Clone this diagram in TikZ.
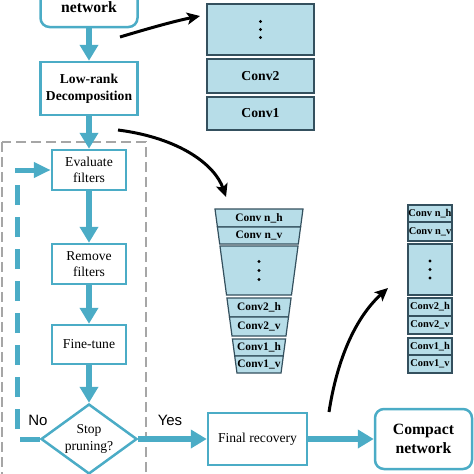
\documentclass[tikz,border=0pt]{standalone}
\usepackage{fontspec}
\setmainfont{Liberation Serif}
\newfontfamily\labelfont{Liberation Sans}
\usetikzlibrary{arrows.meta,shapes.geometric}
\definecolor{flowblue}{HTML}{4BACC6}
\definecolor{layerfill}{HTML}{B7DDE8}
\definecolor{layeredge}{HTML}{34505E}
\definecolor{framegrey}{HTML}{A6A6A6}
\tikzset{
  stepbox/.style={draw=flowblue, line width=2.5pt, fill=white, align=center, inner sep=0pt, font=\fontsize{13.6}{16.5}\selectfont},
  netbox/.style={stepbox, rounded corners=9pt, minimum width=97pt, font=\bfseries\fontsize{15.7}{19}\selectfont},
  flow/.style={line width=6pt, flowblue, -{Triangle[length=16pt,width=18pt]}},
  jump/.style={line width=3pt, -{Stealth[length=13pt,width=12pt,inset=3pt]}},
  layer/.style={draw=layeredge, line width=1.2pt, fill=layerfill},
  layertext/.style={font=\bfseries\fontsize{11.4}{13}\selectfont, inner sep=0pt},
  answer/.style={font=\labelfont\fontsize{15}{18}\selectfont},
}
\begin{document}
\begin{tikzpicture}[x=1pt,y=-1pt]
		\useasboundingbox (0,0) rectangle (474,474);
		% pruning loop frame
		\draw[framegrey, line width=1.8pt, dash pattern=on 10pt off 5pt] (2,142) rectangle (146,490);
		
		\node[netbox, minimum height=40pt] (orig) at (89,7) {network};
		\node[stepbox, minimum width=97pt, minimum height=53pt, font=\bfseries\fontsize{13.6}{16.5}\selectfont] (lowrank) at (89,88.5) {Low-rank\\Decomposition};
		\node[stepbox, minimum width=74pt, minimum height=40pt] (eval) at (89,170) {Evaluate\\filters};
		\node[stepbox, minimum width=74pt, minimum height=40pt] (remove) at (89,264) {Remove\\filters};
		\node[stepbox, minimum width=74pt, minimum height=39pt] (fine) at (89,344.5) {Fine-tune};
		\node[stepbox, diamond, aspect=1.37, minimum width=96pt, minimum height=70pt] (stop) at (89,439) {Stop\\pruning?};
		\node[stepbox, minimum width=99pt, minimum height=52pt] (final) at (257.5,439) {Final recovery};
		\node[netbox, minimum height=60pt] (compact) at (423.5,439) {Compact\\network};
		
		\draw[flow] (orig) -- (lowrank);
		\draw[flow] (lowrank) -- (eval);
		\draw[flow] (eval) -- (remove);
		\draw[flow] (remove) -- (fine);
		\draw[flow] (fine) -- (stop);
		\draw[flow] (stop) -- (final);
		\draw[flow] (final) -- (compact);
		\draw[line width=5pt, flowblue, dash pattern=on 20pt off 12pt, -{Triangle[length=17pt,width=15pt]}] (stop.west) -- ++(-22,0) |- (eval.west);
		
		\node[answer] (no) at (38,420) {No};
		\node[answer] (yes) at (170,420) {Yes};
		
		% original layers
		\node[layer, minimum width=107pt, minimum height=51pt] (odots) at (260.5,29.5) {};
		\node[layer, minimum width=107pt, minimum height=34pt, font=\bfseries\fontsize{13.7}{16}\selectfont] (oconv2) at (260.5,76) {Conv2};
		\node[layer, minimum width=107pt, minimum height=33pt, font=\bfseries\fontsize{13.7}{16}\selectfont] (oconv1) at (260.5,113.5) {Conv1};
		\foreach \d in {-8,0,8} \fill (odots.center) ++(0,\d) circle (1.6pt);
		
		% decomposed layers
		\foreach \ya/\yb/\name/\txt in {209/227/nh/Conv n\_h, 227/244/nv/Conv n\_v, 246/295/dots/, 298/317/twoh/Conv2\_h, 317/336/twov/Conv2\_v, 339/356/oneh/Conv1\_h, 356/373/onev/Conv1\_v} {
			\draw[layer] ({215+0.134*(\ya-209)},\ya) -- ({303-0.134*(\ya-209)},\ya) -- ({303-0.134*(\yb-209)},\yb) -- ({215+0.134*(\yb-209)},\yb) -- cycle;
			\node[layertext] (d\name) at (259,{(\ya+\yb)/2}) {\txt};
		}
		\foreach \d in {-9,0,9} \fill (ddots.center) ++(0,\d) circle (1.6pt);
		
		% pruned layers
		\foreach \ya/\yb/\name/\txt in {205/222/nh/Conv n\_h, 222/241/nv/Conv n\_v, 244/295/dots/, 298/316/twoh/Conv2\_h, 316/334/twov/Conv2\_v, 338/355/oneh/Conv1\_h, 355/373/onev/Conv1\_v} {
			\draw[layer] (408,\ya) rectangle (452,\yb);
			\node[layertext, font=\bfseries\fontsize{10.4}{12}\selectfont] (p\name) at (430,{(\ya+\yb)/2}) {\txt};
		}
		\foreach \d in {-8.5,0,8.5} \fill (pdots.center) ++(0,\d) circle (1.6pt);
		
		\coordinate (jumpa) at (120,37);
		\coordinate (jumpb) at (200,16);
		\coordinate (jumpc) at (118,130);
		\coordinate (jumpd) at (226,197);
		\coordinate (jumpe) at (329,412);
		\coordinate (jumpf) at (388,288);
		\draw[jump] (jumpa) .. controls (150,28) and (175,21) .. (jumpb);
		\draw[jump] (jumpc) .. controls (180,138) and (215,165) .. (jumpd);
		\draw[jump] (jumpe) .. controls (337,360) and (355,318) .. (jumpf);
		
		\end{tikzpicture}
\end{document}
